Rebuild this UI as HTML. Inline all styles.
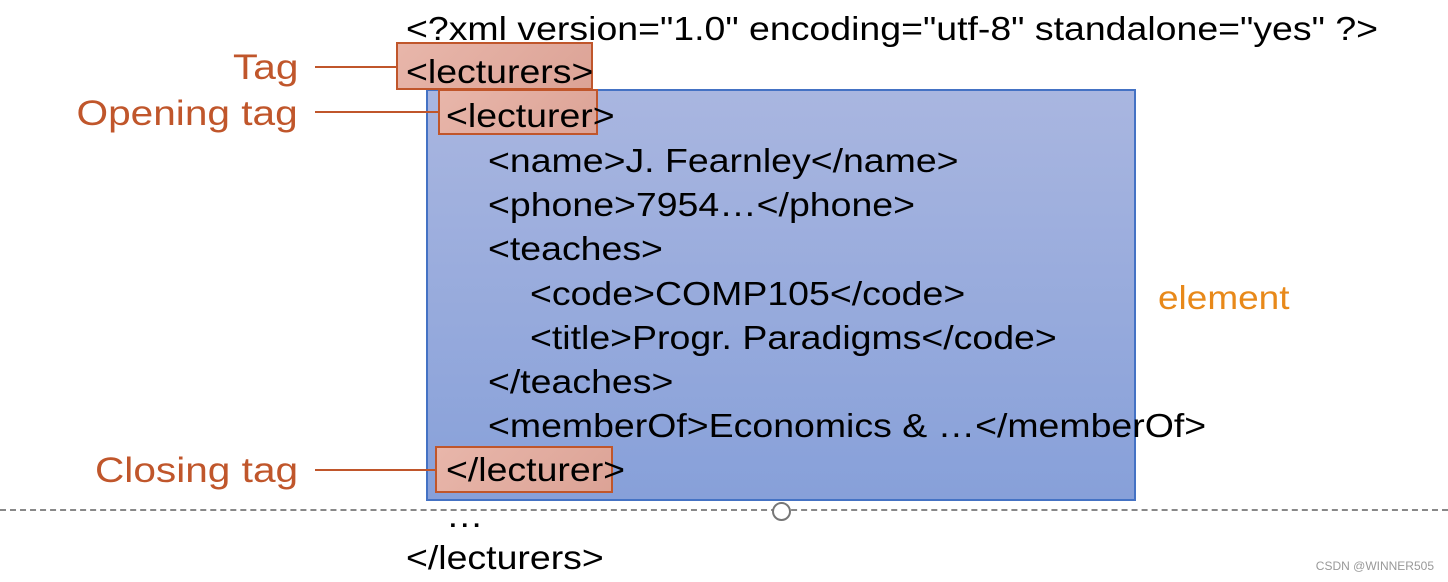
<!DOCTYPE html>
<html><head><meta charset="utf-8"><style>
body{margin:0;width:1448px;height:582px;background:#fff;position:relative;overflow:hidden;font-family:"Liberation Sans",Arial,sans-serif}
.t{position:absolute;font-size:33px;line-height:36px;color:#000;white-space:nowrap;transform:scaleX(1.135);transform-origin:0 50%}
.lab{position:absolute;font-size:35px;line-height:40px;color:#c0562b;white-space:nowrap;text-align:right;right:1150px;transform:scaleX(1.16);transform-origin:100% 50%}
.ln{position:absolute;height:2px;background:#c0562b}
.pk{position:absolute;border:2px solid #c0562b;background:linear-gradient(135deg,#e8b6aa,#dca396);box-sizing:border-box}
</style></head><body>
<div style="position:absolute;left:426px;top:89px;width:710px;height:412px;box-sizing:border-box;border:2px solid #4472c4;background:linear-gradient(#a9b6e0,#87a0d9)"></div>
<div class="pk" style="left:396px;top:42px;width:197px;height:48px"></div>
<div class="pk" style="left:438px;top:89px;width:160px;height:46px"></div>
<div class="pk" style="left:435px;top:446px;width:178px;height:47px"></div>
<div class="ln" style="left:315px;top:66px;width:81px"></div>
<div class="ln" style="left:315px;top:111px;width:123px"></div>
<div class="ln" style="left:315px;top:469px;width:120px"></div>
<div class="lab" style="top:48px">Tag</div>
<div class="lab" style="top:94px">Opening tag</div>
<div class="lab" style="top:451px">Closing tag</div>
<div class="t" style="left:406px;top:11px">&lt;?xml version="1.0" encoding="utf-8" standalone="yes" ?&gt;</div>
<div class="t" style="left:406px;top:54px">&lt;lecturers&gt;</div>
<div class="t" style="left:446px;top:98px">&lt;lecturer&gt;</div>
<div class="t" style="left:488px;top:143px">&lt;name&gt;J. Fearnley&lt;/name&gt;</div>
<div class="t" style="left:488px;top:187px">&lt;phone&gt;7954…&lt;/phone&gt;</div>
<div class="t" style="left:488px;top:231px">&lt;teaches&gt;</div>
<div class="t" style="left:530px;top:276px">&lt;code&gt;COMP105&lt;/code&gt;</div>
<div class="t" style="left:530px;top:320px">&lt;title&gt;Progr. Paradigms&lt;/code&gt;</div>
<div class="t" style="left:488px;top:364px">&lt;/teaches&gt;</div>
<div class="t" style="left:488px;top:408px">&lt;memberOf&gt;Economics &amp; …&lt;/memberOf&gt;</div>
<div class="t" style="left:446px;top:452px">&lt;/lecturer&gt;</div>
<div class="t" style="left:446px;top:498px">…</div>
<div class="t" style="left:406px;top:540px">&lt;/lecturers&gt;</div>
<div class="t" style="left:1158px;top:280px;color:#e8891a;transform:scaleX(1.12)">element</div>
<div style="position:absolute;left:0;top:509px;width:1448px;border-top:2px dashed #888"></div>
<div style="position:absolute;left:772px;top:502px;width:15px;height:15px;border:2px solid #777;border-radius:50%;background:#fff"></div>
<div style="position:absolute;right:14px;top:559px;font-size:12px;color:#999">CSDN @WINNER505</div>
</body></html>
